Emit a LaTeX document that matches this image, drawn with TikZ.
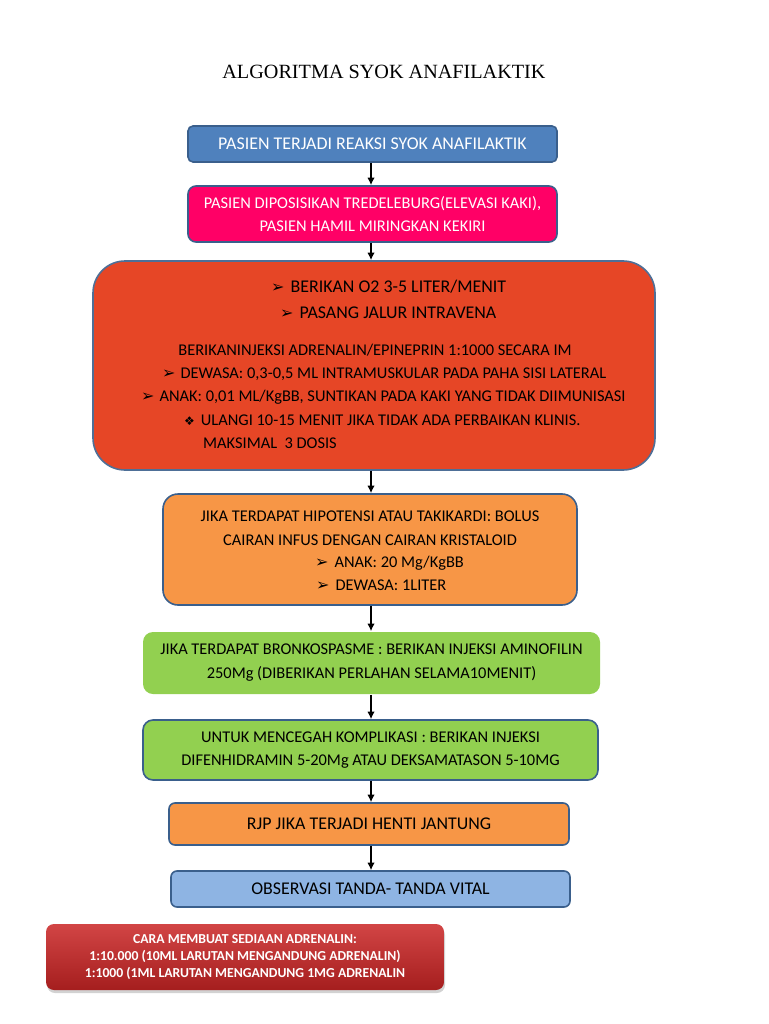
\documentclass[tikz,border=0pt]{standalone}
\usepackage{fontspec}
\setmainfont{Carlito}
\newfontfamily\titlefont{Liberation Serif}
\newfontfamily\sym{DejaVu Sans}
\usetikzlibrary{arrows.meta,shadows}
\definecolor{cblue}{HTML}{4F81BD}
\definecolor{cborder}{HTML}{3A5F8C}
\definecolor{cpink}{HTML}{FF0066}
\definecolor{cred}{HTML}{E64626}
\definecolor{corange}{HTML}{F79646}
\definecolor{cgreen}{HTML}{92D050}
\definecolor{clblue}{HTML}{8EB4E3}
\definecolor{credtop}{HTML}{D24545}
\definecolor{credbot}{HTML}{A51E1E}
\newcommand{\arr}{{\sym\fontsize{16}{16}\selectfont ➢}}
\newcommand{\dia}{{\sym\fontsize{12}{12}\selectfont ❖}}
\tikzset{
  box/.style={draw=cborder, line width=1.6pt, inner sep=0pt, align=center},
  txt/.style={inner sep=0pt, font=\fontsize{16.4}{23}\selectfont},
  flow/.style={line width=1.8pt, -{Latex[length=7.5pt,width=7.5pt]}},
}
\begin{document}
\begin{tikzpicture}[x=1pt,y=-1pt]
\useasboundingbox (0,0) rectangle (768,1024);
\fill[white] (0,0) rectangle (768,1024);
\coordinate (ax) at (371,0);

\node[inner sep=0pt, font=\titlefont\fontsize{20.2}{22}\selectfont] (title) at (384,72) {ALGORITMA SYOK ANAFILAKTIK};

\node[box, fill=cblue, rounded corners=5pt, minimum width=369pt, minimum height=36pt, text=white,
  font=\fontsize{17.9}{20}\selectfont] (b1) at (372.5,144) {PASIEN TERJADI REAKSI SYOK ANAFILAKTIK};

\node[box, fill=cpink, rounded corners=8pt, minimum width=369pt, minimum height=56pt, text=white,
  font=\fontsize{16.4}{23}\selectfont] (b2) at (372.5,214) {PASIEN DIPOSISIKAN TREDELEBURG(ELEVASI KAKI),\\PASIEN HAMIL MIRINGKAN KEKIRI};

\node[box, draw=cborder!90, fill=cred, rounded corners=32pt, minimum width=562pt, minimum height=209pt] (b3) at (374,365.5) {};
\node[txt, anchor=mid west, font=\fontsize{17.9}{20}\selectfont] (l1) at (271,290) {\arr\hspace{6pt}BERIKAN O2 3-5 LITER/MENIT};
\node[txt, anchor=mid west, font=\fontsize{17.9}{20}\selectfont] (l2) at (280,316) {\arr\hspace{6pt}PASANG JALUR INTRAVENA};
\node[txt] (l3) at (375,350) {BERIKANINJEKSI ADRENALIN/EPINEPRIN 1:1000 SECARA IM};
\node[txt, anchor=mid west] (l4) at (162,376) {\arr\hspace{5pt}DEWASA: 0,3-0,5 ML INTRAMUSKULAR PADA PAHA SISI LATERAL};
\node[txt, anchor=mid west] (l5) at (141,399) {\arr\hspace{5pt}ANAK: 0,01 ML/KgBB, SUNTIKAN PADA KAKI YANG TIDAK DIIMUNISASI};
\node[txt, anchor=mid west] (l6) at (184,423) {\dia\hspace{6pt}ULANGI 10-15 MENIT JIKA TIDAK ADA PERBAIKAN KLINIS.};
\node[txt, anchor=mid west] (l7) at (203,446) {MAKSIMAL\ \ 3 DOSIS};

\node[box, fill=corange, rounded corners=15pt, minimum width=414pt, minimum height=111pt] (b4) at (370,549.5) {};
\node[txt] (m1) at (370,516) {JIKA TERDAPAT HIPOTENSI ATAU TAKIKARDI: BOLUS};
\node[txt] (m2) at (370,540) {CAIRAN INFUS DENGAN CAIRAN KRISTALOID};
\node[txt, anchor=mid west] (m3) at (315,565) {\arr\hspace{6pt}ANAK: 20 Mg/KgBB};
\node[txt, anchor=mid west] (m4) at (316,588) {\arr\hspace{6pt}DEWASA: 1LITER};

\node[box, draw=none, fill=cgreen, rounded corners=10pt, minimum width=457pt, minimum height=62pt,
  font=\fontsize{16.4}{24}\selectfont] (b5) at (371.5,663) {JIKA TERDAPAT BRONKOSPASME : BERIKAN INJEKSI AMINOFILIN\\250Mg (DIBERIKAN PERLAHAN SELAMA10MENIT)};

\node[box, fill=cgreen, rounded corners=10pt, minimum width=455pt, minimum height=60pt,
  font=\fontsize{16.4}{23}\selectfont] (b6) at (370.5,750) {UNTUK MENCEGAH KOMPLIKASI : BERIKAN INJEKSI\\DIFENHIDRAMIN 5-20Mg ATAU DEKSAMATASON 5-10MG};

\node[box, fill=corange, rounded corners=6pt, minimum width=400pt, minimum height=42pt,
  font=\fontsize{17.9}{20}\selectfont] (b7) at (369,824) {RJP JIKA TERJADI HENTI JANTUNG};

\node[box, fill=clblue, rounded corners=6pt, minimum width=399pt, minimum height=36pt,
  font=\fontsize{17.9}{20}\selectfont] (b8) at (370.5,889) {OBSERVASI TANDA- TANDA VITAL};

\node[inner sep=0pt, align=center, rounded corners=8pt, top color=credtop, bottom color=credbot,
  drop shadow={shadow xshift=1pt, shadow yshift=-3pt, opacity=0.35},
  minimum width=398pt, minimum height=66pt, text=white,
  font=\bfseries\fontsize{13.7}{17}\selectfont] (b9) at (245,957)
  {CARA MEMBUAT SEDIAAN ADRENALIN:\\1:10.000 (10ML LARUTAN MENGANDUNG ADRENALIN)\\1:1000 (1ML LARUTAN MENGANDUNG 1MG ADRENALIN};

\draw[flow] (b1.south -| ax) -- (b2.north -| ax);
\draw[flow] (b2.south -| ax) -- (b3.north -| ax);
\draw[flow] (b3.south -| ax) -- (b4.north -| ax);
\draw[flow] (b4.south -| ax) -- (b5.north -| ax);
\draw[flow] (b5.south -| ax) -- (b6.north -| ax);
\draw[flow] (b6.south -| ax) -- (b7.north -| ax);
\draw[flow] (b7.south -| ax) -- (b8.north -| ax);
\end{tikzpicture}
\end{document}
